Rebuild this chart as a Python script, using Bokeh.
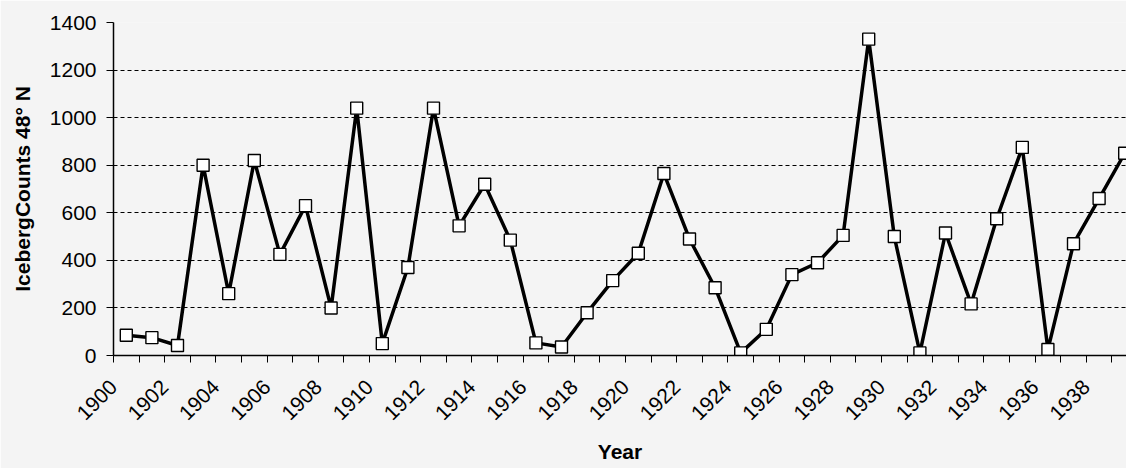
from bokeh.plotting import figure
from bokeh.models import FixedTicker, Range1d, Grid, ColumnDataSource
from bokeh.embed import file_html
from bokeh.resources import INLINE
import math

years = list(range(1900, 1940))
counts = [85, 75, 42, 800, 260, 820, 425, 630, 200, 1040,
          50, 370, 1040, 545, 720, 485, 53, 36, 180, 315,
          430, 765, 490, 285, 11, 110, 340, 390, 505, 1330,
          500, 11, 515, 217, 575, 875, 25, 470, 660, 850]
label_years = years[::2]
tick_labels = [str(y) for y in label_years]
y_ticks = [0, 200, 400, 600, 800, 1000, 1200, 1400]

BG = "#f4f4f4"
FONT = "Liberation Sans"

src = ColumnDataSource(dict(year=years, count=counts))

p = figure(width=1126, height=468, output_backend="svg", toolbar_location=None,
           x_range=Range1d(years[0] - 0.5, years[-1] + 0.07),
           y_range=Range1d(y_ticks[0], y_ticks[-1]),
           background_fill_color=BG, border_fill_color=BG,
           min_border_left=113, min_border_right=0, min_border_top=22,
           min_border_bottom=113)
p.outline_line_color = None

p.line("year", "count", source=src, line_color="black", line_width=3.5)
p.scatter("year", "count", source=src, marker="square", size=12,
          fill_color="white", line_color="black", line_width=1.4)

# x axis: tick marks at category boundaries, labels anchored at category start
lab_pos = [y - 0.5 for y in label_years]
p.xaxis.ticker = FixedTicker(ticks=lab_pos,
                             minor_ticks=[y - 0.5 for y in years] + [years[-1] + 0.5])
p.xaxis.major_label_overrides = {pos: t for pos, t in zip(lab_pos, tick_labels)}
p.xaxis.major_tick_line_color = None
p.xaxis.major_tick_out = 7
p.xaxis.major_tick_in = 0
p.xaxis.minor_tick_line_color = "black"
p.xaxis.minor_tick_out = 7
p.xaxis.minor_tick_in = 0
p.xaxis.major_label_orientation = math.pi / 4
p.xaxis.major_label_text_font = FONT
p.xaxis.major_label_text_font_size = "21px"
p.xaxis.major_label_text_color = "black"
p.xaxis.major_label_standoff = 21
p.xaxis.axis_line_color = "black"
p.xaxis.axis_line_width = 1.5
p.xaxis.axis_label = "Year"
p.xaxis.axis_label_text_font = FONT
p.xaxis.axis_label_text_font_style = "bold"
p.xaxis.axis_label_text_font_size = "21px"
p.xaxis.axis_label_text_color = "black"
p.xaxis.axis_label_standoff = 11

p.yaxis.ticker = FixedTicker(ticks=y_ticks)
p.yaxis.minor_tick_line_color = None
p.yaxis.major_tick_out = 7
p.yaxis.major_tick_in = 0
p.yaxis.major_tick_line_color = "black"
p.yaxis.axis_line_color = "black"
p.yaxis.axis_line_width = 1.5
p.yaxis.major_label_text_font = FONT
p.yaxis.major_label_text_font_size = "21px"
p.yaxis.major_label_text_color = "black"
p.yaxis.major_label_standoff = 10
p.yaxis.axis_label = "IcebergCounts 48° N"
p.yaxis.axis_label_text_font = FONT
p.yaxis.axis_label_text_font_style = "bold"
p.yaxis.axis_label_text_font_size = "21px"
p.yaxis.axis_label_text_color = "black"
p.yaxis.axis_label_standoff = 13

p.xgrid.grid_line_color = None
p.ygrid.ticker = FixedTicker(ticks=y_ticks[1:-1])
p.ygrid.grid_line_color = "black"
p.ygrid.grid_line_dash = "4 3"
p.ygrid.grid_line_width = 1

top = Grid(dimension=1, ticker=FixedTicker(ticks=[y_ticks[-1]]),
           grid_line_color="#808080", grid_line_width=1.5)
p.add_layout(top)

open("out.html", "w").write(file_html(p, INLINE))
